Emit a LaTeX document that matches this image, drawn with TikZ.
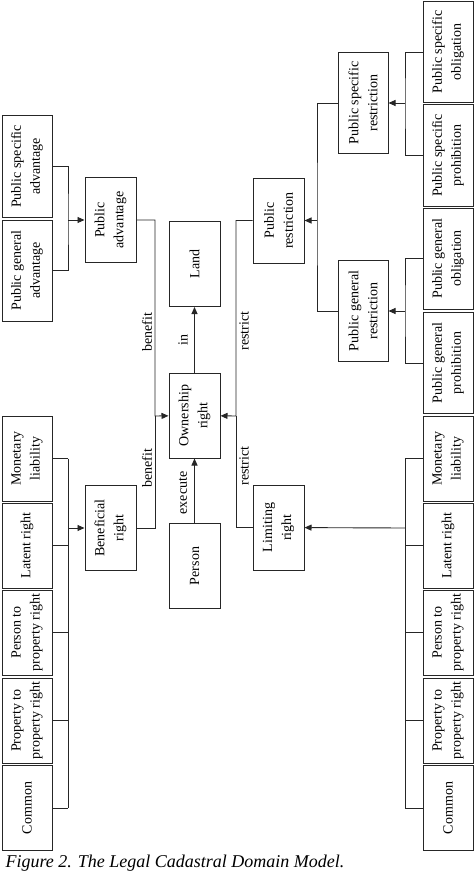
\documentclass[tikz,border=0pt]{standalone}
\usepackage{fontspec}
\setmainfont{Liberation Serif}
\usetikzlibrary{arrows.meta}

\begin{document}
\begin{tikzpicture}[
    x=1pt, y=-1pt,
    every node/.style={font=\fontsize{14}{19}\selectfont},
    box/.style={draw=black!85, line width=1pt, rotate=90, align=center,
        inner sep=2pt, minimum width=85pt, minimum height=51pt},
    tall/.style={box, minimum width=101pt, minimum height=50pt},
    side/.style={box, minimum height=50pt},
    lbl/.style={rotate=90, inner sep=1pt},
    link/.style={draw=black!85, line width=0.9pt},
    arr/.style={link, -{Triangle[length=7pt,width=6pt]}},
]
\useasboundingbox (0,0) rectangle (474,872);

% core
\node[box] (land) at (194.5,264) {Land};
\node[box] (own) at (194.5,415.5) {Ownership\\right};
\node[box] (person) at (194.5,566) {Person};

% benefit side
\node[tall] (psadv) at (27,166.5) {Public specific\\advantage};
\node[tall] (pgadv) at (27,270.5) {Public general\\advantage};
\node[box] (padv) at (110.5,220) {Public\\advantage};
\node[box] (benr) at (110.5,528) {Beneficial\\right};

% restrict side
\node[box] (pres) at (278.5,220.5) {Public\\restriction};
\node[box] (limr) at (278.5,527.5) {Limiting\\right};
\node[tall] (psres) at (363,103) {Public specific\\restriction};
\node[tall] (pgres) at (363,311) {Public general\\restriction};
\node[tall] (psobl) at (448,52) {Public specific\\obligation};
\node[tall] (psprh) at (448,155.5) {Public specific\\prohibition};
\node[tall] (pgobl) at (448,258.5) {Public general\\obligation};
\node[tall] (pgprh) at (448,363) {Public general\\prohibition};

% kinds of rights, both columns
\foreach \s/\x in {l/27, r/448} {
    \node[side] (\s mon) at (\x,458.5) {Monetary\\liability};
    \node[side] (\s lat) at (\x,545.5) {Latent right};
    \node[side] (\s ptp) at (\x,632.5) {Person to\\property right};
    \node[side] (\s prp) at (\x,720.5) {Property to\\property right};
    \node[side] (\s com) at (\x,808) {Common};
}

% junctions
\coordinate (jpa) at (68,220);
\coordinate (jbr) at (68,528);
\coordinate (jben) at (155,416);
\coordinate (jres) at (236,416);
\coordinate (jpr) at (317,220.5);
\coordinate (jpsr) at (405,103);
\coordinate (jpgr) at (405,311);
\coordinate (jlr) at (405,528);

\draw[link] (psadv) -| (jpa) |- (pgadv);
\draw[arr] (jpa) -- (padv);
\foreach \n in {mon,lat,ptp,prp,com} {
    \draw[link] (l\n) -- (l\n -| jbr);
    \draw[link] (r\n) -- (r\n -| jlr);
}
\draw[link] (lmon -| jbr) -- (lcom -| jbr);
\draw[link] (rmon -| jlr) -- (rcom -| jlr);
\draw[arr] (jbr) -- (benr);
\draw[arr] (jlr) -- (limr);

\draw[arr] (padv) -| (jben) -- (own);
\draw[link] (benr) -| (jben);
\draw[arr] (own) -- (land);
\draw[arr] (person) -- (own);
\draw[arr] (pres) -| (jres) -- (own);
\draw[link] (limr) -| (jres);

\draw[link] (psres) -| (jpr) |- (pgres);
\draw[arr] (jpr) -- (pres);
\draw[link] (psobl) -| (jpsr) |- (psprh);
\draw[arr] (jpsr) -- (psres);
\draw[link] (pgobl) -| (jpgr) |- (pgprh);
\draw[arr] (jpgr) -- (pgres);

% labels
\node[lbl] (ben1) at (147,332) {benefit};
\node[lbl] (ben2) at (147,468) {benefit};
\node[lbl] (in) at (183,340) {in};
\node[lbl] (exe) at (183,493) {execute};
\node[lbl] (res1) at (244,331) {restrict};
\node[lbl] (res2) at (244,466) {restrict};

\node[anchor=base west, font=\fontsize{18}{18}\selectfont\itshape] (cap)
    at (2,867) {Figure 2. The Legal Cadastral Domain Model.};
\end{tikzpicture}
\end{document}
